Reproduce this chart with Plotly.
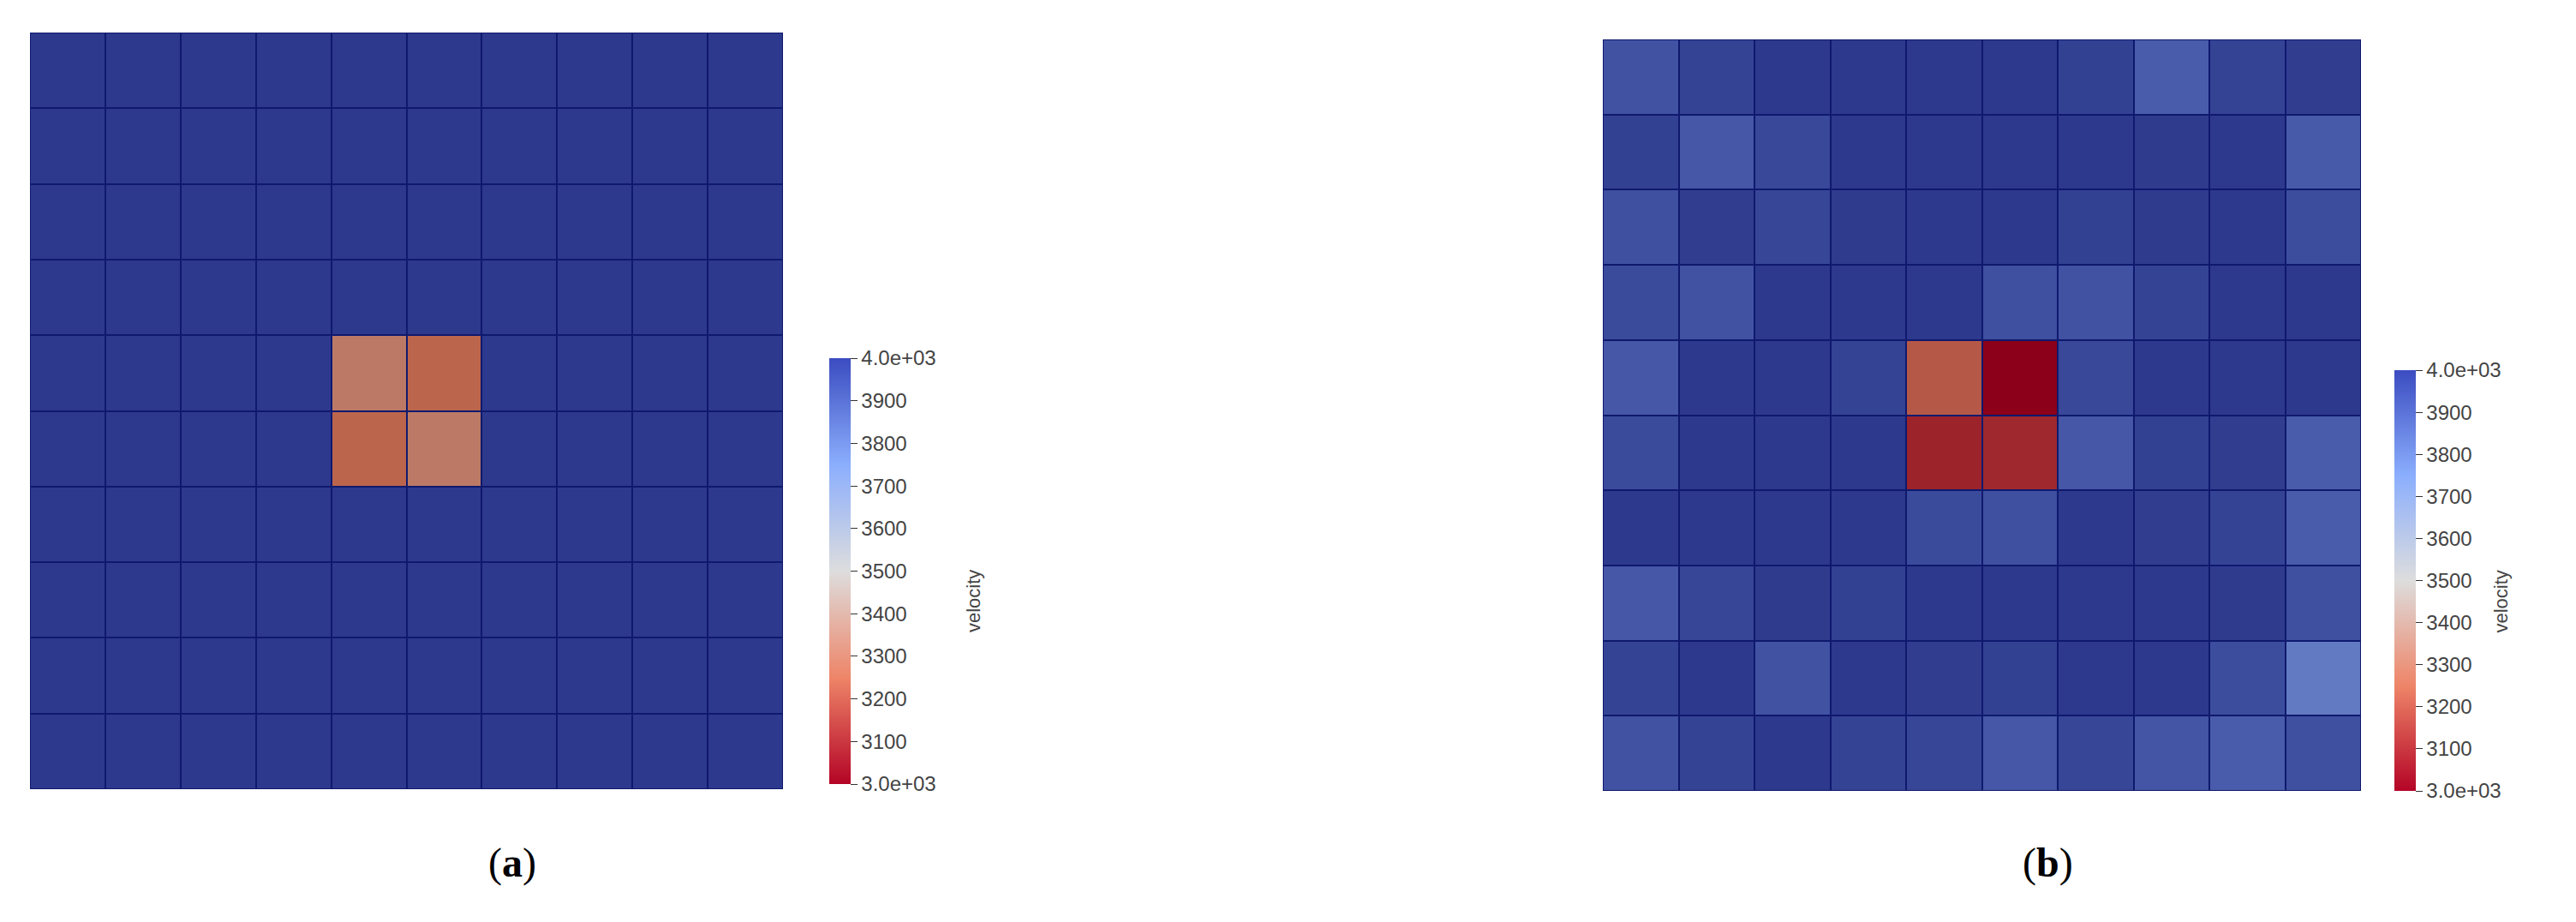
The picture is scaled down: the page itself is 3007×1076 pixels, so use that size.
import plotly.graph_objects as go

# velocity model, rows listed from top to bottom
cols = list(range(1, 11))
rows = list(range(1, 11))

vel_a = [
    [4000] * 10,
    [4000] * 10,
    [4000] * 10,
    [4000] * 10,
    [4000, 4000, 4000, 4000, 3300, 3230, 4000, 4000, 4000, 4000],
    [4000, 4000, 4000, 4000, 3230, 3300, 4000, 4000, 4000, 4000],
    [4000] * 10,
    [4000] * 10,
    [4000] * 10,
    [4000] * 10,
]

vel_b = [
    [3900, 3960, 4000, 4000, 4000, 4000, 3970, 3860, 3960, 3980],
    [3970, 3880, 3940, 4000, 4000, 4000, 4000, 3990, 4000, 3870],
    [3910, 3980, 3950, 3990, 4000, 4000, 3970, 3990, 4000, 3920],
    [3930, 3900, 4000, 4000, 4000, 3910, 3900, 3960, 4000, 4000],
    [3880, 4000, 4000, 3960, 3200, 3000, 3940, 4000, 4000, 4000],
    [3930, 4000, 4000, 4000, 3080, 3090, 3880, 3970, 3980, 3860],
    [4000, 4000, 4000, 4000, 3930, 3910, 4000, 3980, 3960, 3860],
    [3880, 3950, 3990, 3970, 4000, 4000, 4000, 4000, 3990, 3910],
    [3960, 4000, 3900, 4000, 3980, 3970, 4000, 4000, 3920, 3740],
    [3900, 3960, 4000, 3960, 3950, 3880, 3950, 3890, 3860, 3910],
]

tick_vals = [3000, 3100, 3200, 3300, 3400, 3500, 3600, 3700, 3800, 3900, 4000]
tick_text = ["3.0e+03", "3100", "3200", "3300", "3400", "3500",
             "3600", "3700", "3800", "3900", "4.0e+03"]

# ParaView cool-to-warm, reversed (high = blue)
cool_warm = [[0.0, "rgb(180,4,38)"], [0.25, "rgb(238,133,104)"],
             [0.5, "rgb(221,221,221)"], [0.75, "rgb(139,174,253)"],
             [1.0, "rgb(59,76,192)"]]
# same map as it looks on the lit cells
shaded = [[0.0, "rgb(140,0,25)"], [0.25, "rgb(192,110,82)"],
          [0.5, "rgb(170,172,180)"], [0.75, "rgb(95,120,195)"],
          [1.0, "rgb(45,57,140)"]]

W, H = 3007, 1076
fig = go.Figure()

panels = [
    (vel_a, "x", "y", (27, 906, 30, 913), (960, 410, 907), "coloraxis", 560, "a", 1128),
    (vel_b, "x2", "y2", (1863, 2748, 38, 915), (2787, 424, 915), "coloraxis2", 2414, "b", 2925),
]

layout = dict(width=W, height=H, margin=dict(l=0, r=0, t=0, b=0),
              paper_bgcolor="white", plot_bgcolor="rgb(15,25,110)",
              showlegend=False)

for i, (z, xa, ya, box, cb, cax, lx, letter, vx) in enumerate(panels):
    x0, x1, y0, y1 = box
    fig.add_trace(go.Heatmap(z=z, x=cols, y=rows, xaxis=xa, yaxis=ya,
                             zmin=3000, zmax=4000, colorscale=shaded,
                             showscale=False, xgap=2, ygap=2,
                             hoverinfo="z"))
    fig.add_trace(go.Scatter(x=[None, None], y=[None, None], xaxis=xa, yaxis=ya,
                             mode="markers",
                             marker=dict(color=[3000, 4000], coloraxis=cax)))
    sfx = "" if i == 0 else "2"
    layout["xaxis" + sfx] = dict(domain=[x0 / W, x1 / W], range=[0.5, 10.5],
                                 visible=False, anchor="y" + sfx)
    layout["yaxis" + sfx] = dict(domain=[1 - y1 / H, 1 - y0 / H], range=[10.5, 0.5],
                                 visible=False, anchor="x" + sfx)
    cbx, cby0, cby1 = cb
    layout[cax] = dict(
        cmin=3000, cmax=4000, colorscale=cool_warm,
        colorbar=dict(
            x=cbx / W, xanchor="left", xpad=0, ypad=0,
            y=1 - (cby0 + cby1) / 2 / H, yanchor="middle",
            len=cby1 - cby0, lenmode="pixels", thickness=25, thicknessmode="pixels",
            outlinewidth=0, ticks="outside", ticklen=8, tickcolor="#333",
            tickvals=tick_vals, ticktext=tick_text,
            tickfont=dict(family="Liberation Sans", size=24, color="#444"),
        ),
    )
    fig.add_annotation(x=vx / W, y=1 - 694 / H, xref="paper", yref="paper",
                       text="velocity", textangle=-90, showarrow=False,
                       font=dict(family="Liberation Sans", size=22, color="#444"))
    fig.add_annotation(x=lx / W, y=1 - 1028 / H, xref="paper", yref="paper",
                       text="(<b>" + letter + "</b>)", showarrow=False,
                       font=dict(family="Liberation Serif", size=48, color="black"))

fig.update_layout(**layout)
fig.write_html("out.html")
